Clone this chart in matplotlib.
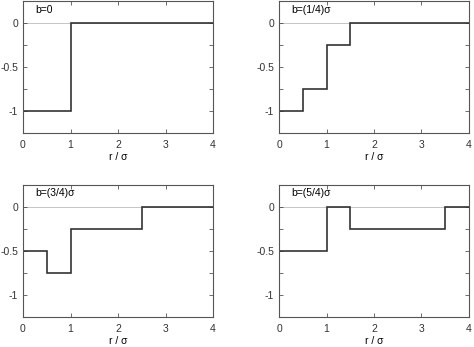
import matplotlib
matplotlib.use("Agg")
import matplotlib.pyplot as plt
from matplotlib.ticker import MultipleLocator

plt.rcParams['font.family'] = ['Liberation Sans', 'DejaVu Sans']

labels = ["b=0", "b=(1/4)σ", "b=(3/4)σ", "b=(5/4)σ"]
edges_list = [
    [0, 1, 4],
    [0, 0.5, 1, 1.5, 4],
    [0, 0.5, 1, 2.5, 4],
    [0, 1, 1.5, 3.5, 4],
]
values_list = [
    [-1, 0],
    [-1, -0.75, -0.25, 0],
    [-0.5, -0.75, -0.25, 0],
    [-0.5, 0, -0.25, 0],
]
xticks = [0, 1, 2, 3, 4]
yticks = [0, -0.5, -1]
ytick_labels = ["0", "-0.5", "-1"]

fig = plt.figure(figsize=(4.74, 3.47), dpi=100)
positions = [
    [0.0485, 0.6176, 0.401, 0.379],
    [0.589, 0.6176, 0.3996, 0.379],
    [0.0485, 0.0856, 0.401, 0.382],
    [0.589, 0.0856, 0.3996, 0.382],
]
for pos, lab, edges, vals in zip(positions, labels, edges_list, values_list):
    ax = fig.add_axes(pos)
    ax.axhline(0, color='#bbbbbb', lw=0.6, zorder=1)
    ax.stairs(vals, edges, color='#333333', lw=1.2, zorder=2)
    ax.set_xlim(0, 4)
    ax.set_ylim(-1.25, 0.25)
    ax.set_xticks(xticks)
    ax.set_yticks(yticks)
    ax.set_yticklabels(ytick_labels)
    ax.yaxis.set_minor_locator(MultipleLocator(0.25))
    ax.tick_params(which='both', direction='in', top=True, right=True,
                   labelsize=7.5, length=3, width=0.5, colors='#333333')
    ax.tick_params(axis='y', pad=3.5)
    ax.tick_params(axis='x', pad=5)
    ax.tick_params(which='minor', length=3)
    for s in ax.spines.values():
        s.set_color('#555555')
        s.set_linewidth(0.8)
    ax.set_xlabel("r / σ", fontsize=7.5, labelpad=1.5)
    ax.text(0.063, 0.935, lab, transform=ax.transAxes, fontsize=7.5,
            va='center', ha='left')

fig.savefig("out.png", dpi=100)
